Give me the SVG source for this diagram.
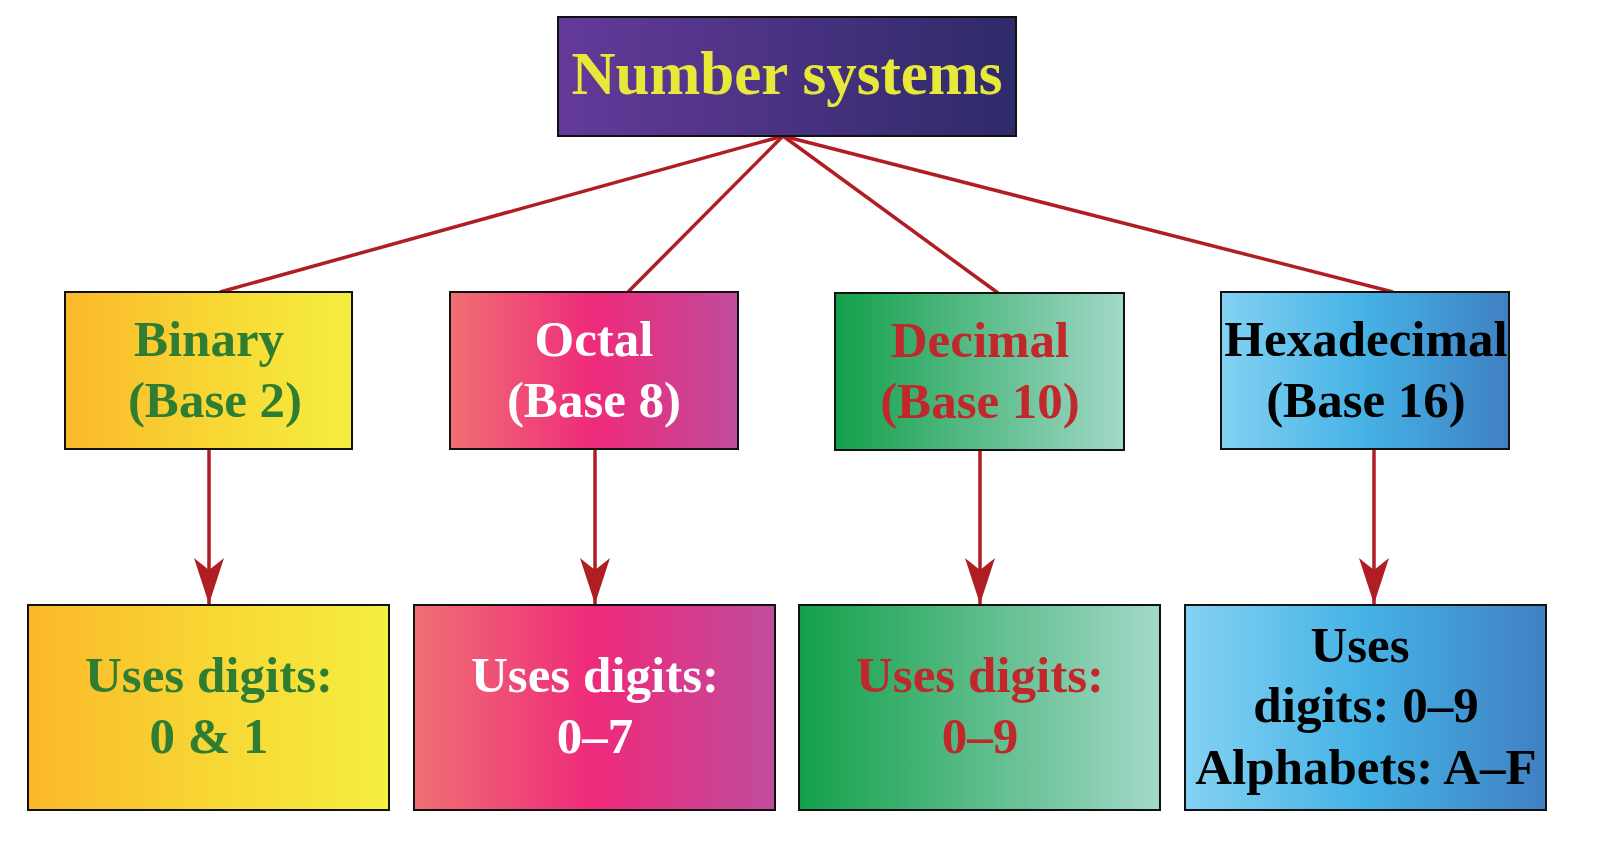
<svg xmlns="http://www.w3.org/2000/svg" width="1615" height="858" viewBox="0 0 1615 858">
<defs>
<linearGradient id="gt"><stop offset="0" stop-color="#643a9a"/><stop offset="1" stop-color="#2e2a68"/></linearGradient>
<linearGradient id="gb"><stop offset="0" stop-color="#fbb829"/><stop offset="0.5" stop-color="#f8d634"/><stop offset="1" stop-color="#f5ee40"/></linearGradient>
<linearGradient id="go"><stop offset="0" stop-color="#f07072"/><stop offset="0.5" stop-color="#ee2a7b"/><stop offset="1" stop-color="#c04c9c"/></linearGradient>
<linearGradient id="gd"><stop offset="0" stop-color="#13a04a"/><stop offset="1" stop-color="#a2d8c8"/></linearGradient>
<linearGradient id="gh"><stop offset="0" stop-color="#84d2f2"/><stop offset="0.5" stop-color="#45b2e6"/><stop offset="1" stop-color="#4080c2"/></linearGradient>
<marker id="ah" viewBox="0 0 46 30" refX="46" refY="15" markerWidth="46" markerHeight="30" markerUnits="userSpaceOnUse" orient="auto">
<path d="M0 0 L12 15 L0 30 L46 15 Z" fill="#b01e24"/></marker>
</defs>
<style>
rect{stroke:#111;stroke-width:2}
.t{font-family:"Liberation Serif",serif;font-weight:bold;font-size:51px;text-anchor:middle}
.c{stroke:#b01e24;stroke-width:3.5;fill:none}
</style>
<g id="connectors">
<line class="c" x1="783" y1="136" x2="220" y2="292"/>
<line class="c" x1="783" y1="136" x2="628" y2="292"/>
<line class="c" x1="783" y1="136" x2="998" y2="293"/>
<line class="c" x1="783" y1="136" x2="1393" y2="292"/>
<line class="c" x1="209" y1="449" x2="209" y2="604" marker-end="url(#ah)"/>
<line class="c" x1="595" y1="449" x2="595" y2="604" marker-end="url(#ah)"/>
<line class="c" x1="980" y1="450" x2="980" y2="604" marker-end="url(#ah)"/>
<line class="c" x1="1374" y1="449" x2="1374" y2="604" marker-end="url(#ah)"/>
</g>
<g id="top"><rect x="558" y="17" width="458" height="119" fill="url(#gt)" stroke-width="3"/>
<text class="t" x="787" y="94" fill="#e8e83a" style="font-size:61px">Number systems</text></g>
<g id="binary"><rect x="65" y="292" width="287" height="157" fill="url(#gb)"/>
<text class="t" fill="#2e7d32" x="209" y="356">Binary</text><text class="t" fill="#2e7d32" x="215" y="417">(Base 2)</text></g>
<g id="octal"><rect x="450" y="292" width="288" height="157" fill="url(#go)"/>
<text class="t" fill="#fff" x="594" y="356">Octal</text><text class="t" fill="#fff" x="594" y="417">(Base 8)</text></g>
<g id="decimal"><rect x="835" y="293" width="289" height="157" fill="url(#gd)"/>
<text class="t" fill="#c0282c" x="980" y="357">Decimal</text><text class="t" fill="#c0282c" x="980" y="418">(Base 10)</text></g>
<g id="hex"><rect x="1221" y="292" width="288" height="157" fill="url(#gh)"/>
<text class="t" fill="#000" x="1366" y="356">Hexadecimal</text><text class="t" fill="#000" x="1366" y="417">(Base 16)</text></g>
<g id="binary-d"><rect x="28" y="605" width="361" height="205" fill="url(#gb)"/>
<text class="t" fill="#2e7d32" x="209" y="692">Uses digits:</text><text class="t" fill="#2e7d32" x="209" y="753">0 &amp; 1</text></g>
<g id="octal-d"><rect x="414" y="605" width="361" height="205" fill="url(#go)"/>
<text class="t" fill="#fff" x="595" y="692">Uses digits:</text><text class="t" fill="#fff" x="595" y="753">0–7</text></g>
<g id="decimal-d"><rect x="799" y="605" width="361" height="205" fill="url(#gd)"/>
<text class="t" fill="#c0282c" x="980" y="692">Uses digits:</text><text class="t" fill="#c0282c" x="980" y="753">0–9</text></g>
<g id="hex-d"><rect x="1185" y="605" width="361" height="205" fill="url(#gh)"/>
<text class="t" fill="#000" x="1360" y="662">Uses</text><text class="t" fill="#000" x="1366" y="722">digits: 0–9</text><text class="t" fill="#000" x="1366" y="784">Alphabets: A–F</text></g>
</svg>
